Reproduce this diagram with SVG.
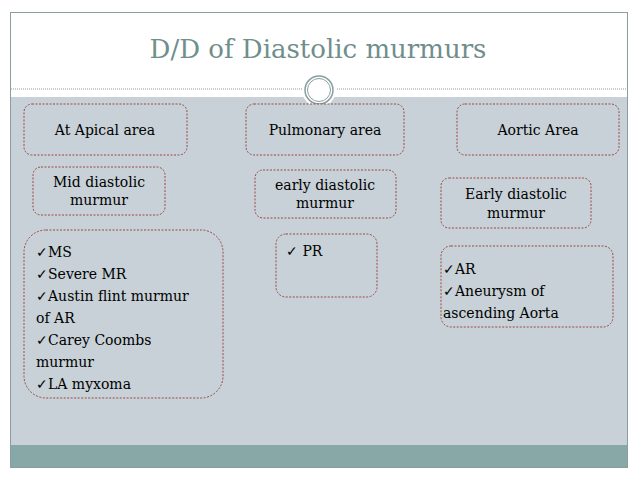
<svg xmlns="http://www.w3.org/2000/svg" width="638" height="479" viewBox="0 0 638 479">
<style>
.b{fill:#c7d1d7;stroke:#9a4a44;stroke-width:1;stroke-dasharray:2 1.5}
text{font-family:'DejaVu Serif',serif;font-size:14px;fill:#000}
.c{text-anchor:middle}
</style>
<rect width="638" height="479" fill="#fff"/>
<rect x="10.5" y="12.5" width="617" height="455" fill="#fff" stroke="#8a9ea0"/>
<rect x="11" y="97" width="616" height="348" fill="#c7d1d7"/>
<rect x="11" y="445" width="616" height="22" fill="#88a8a8"/>
<line x1="11" y1="89" x2="627" y2="89" stroke="#8a9ea0" stroke-dasharray="1 1"/>
<circle cx="319" cy="90" r="17" fill="#fff"/>
<circle cx="319" cy="90" r="14" fill="none" stroke="#8a9ea0" stroke-width="1.5"/>
<circle cx="319" cy="90" r="11.5" fill="none" stroke="#8a9ea0" stroke-width="1"/>
<text x="318" y="58" class="c" style="font-size:26px;fill:#6f8e8c">D/D of Diastolic murmurs</text>
<g id="apical"><rect class="b" x="24" y="104" width="163" height="51" rx="8"/><text x="105" y="135" class="c">At Apical area</text></g>
<g id="pulm"><rect class="b" x="246" y="104" width="158" height="51" rx="8"/><text x="325" y="135" class="c">Pulmonary area</text></g>
<g id="aortic"><rect class="b" x="457" y="104" width="162" height="51" rx="8"/><text x="538" y="135" class="c">Aortic Area</text></g>
<g id="mid"><rect class="b" x="33" y="167" width="132" height="48" rx="8"/><text x="99" y="187" class="c">Mid diastolic</text><text x="99" y="205" class="c">murmur</text></g>
<g id="early1"><rect class="b" x="255" y="170" width="141" height="48" rx="8"/><text x="325" y="190" class="c">early diastolic</text><text x="325" y="208" class="c">murmur</text></g>
<g id="early2"><rect class="b" x="441" y="178" width="150" height="50" rx="8"/><text x="516" y="199" class="c">Early diastolic</text><text x="516" y="218" class="c">murmur</text></g>
<g id="list1"><rect class="b" x="24" y="230" width="199" height="168" rx="22"/>
<text x="36" y="257">✓MS</text><text x="36" y="279">✓Severe MR</text><text x="36" y="301">✓Austin flint murmur</text><text x="36" y="323">of AR</text><text x="36" y="345">✓Carey Coombs</text><text x="36" y="367">murmur</text><text x="36" y="389">✓LA myxoma</text></g>
<g id="list2"><rect class="b" x="276" y="234" width="101" height="63" rx="10"/><text x="286" y="256">✓ PR</text></g>
<g id="list3"><rect class="b" x="441" y="246" width="172" height="81" rx="10"/><text x="443" y="274">✓AR</text><text x="443" y="296">✓Aneurysm of</text><text x="443" y="318">ascending Aorta</text></g>
<g id="connectors"></g>
</svg>
